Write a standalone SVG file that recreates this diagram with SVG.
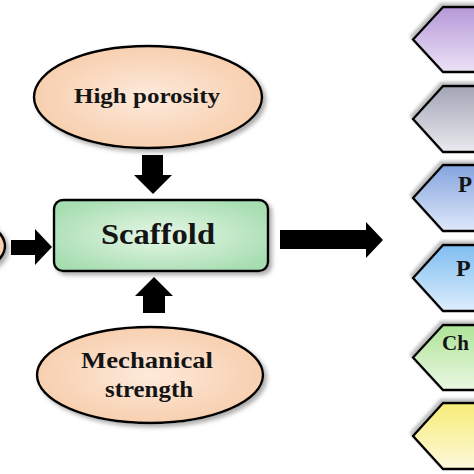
<svg xmlns="http://www.w3.org/2000/svg" width="474" height="474" viewBox="0 0 474 474">
<defs>
<style>
.lbl{font-family:"Liberation Serif","Times New Roman",serif;font-weight:bold;fill:#141414;text-anchor:middle}
.ol{stroke:#000;stroke-width:2.4}
.arr{fill:#000}
</style>
<radialGradient id="peach" cx="50%" cy="50%" r="55%">
<stop offset="0" stop-color="#fdeadb"/>
<stop offset="1" stop-color="#f7cdab"/>
</radialGradient>
<radialGradient id="green" cx="50%" cy="50%" r="60%">
<stop offset="0" stop-color="#e6f7e6"/>
<stop offset="1" stop-color="#a6ddb1"/>
</radialGradient>
<linearGradient id="g1" x1="0" y1="0" x2="0" y2="1"><stop offset="0" stop-color="#b598d8"/><stop offset="1" stop-color="#ece2f6"/></linearGradient>
<linearGradient id="g2" x1="0" y1="0" x2="0" y2="1"><stop offset="0" stop-color="#a2a4b5"/><stop offset="1" stop-color="#eaeaef"/></linearGradient>
<linearGradient id="g3" x1="0" y1="0" x2="0" y2="1"><stop offset="0" stop-color="#84a4df"/><stop offset="1" stop-color="#dfe8f9"/></linearGradient>
<linearGradient id="g4" x1="0" y1="0" x2="0" y2="1"><stop offset="0" stop-color="#7ebdf1"/><stop offset="1" stop-color="#ddeefc"/></linearGradient>
<linearGradient id="g5" x1="0" y1="0" x2="0" y2="1"><stop offset="0" stop-color="#ade397"/><stop offset="1" stop-color="#ebf8e3"/></linearGradient>
<linearGradient id="g6" x1="0" y1="0" x2="0" y2="1"><stop offset="0" stop-color="#f6ec76"/><stop offset="1" stop-color="#fdf9dc"/></linearGradient>
<filter id="sh" x="-20%" y="-20%" width="140%" height="140%">
<feDropShadow dx="3" dy="3" stdDeviation="2" flood-color="#777" flood-opacity="0.6"/>
</filter>
<filter id="shh" x="-20%" y="-20%" width="140%" height="140%">
<feDropShadow dx="-2" dy="-3" stdDeviation="1.5" flood-color="#888" flood-opacity="0.55"/>
</filter>
</defs>
<rect width="474" height="474" fill="#fff"/>

<g id="left-node">
<ellipse cx="-100" cy="246" rx="105" ry="40" fill="url(#peach)" class="ol" filter="url(#sh)"/>
</g>

<g id="high-porosity">
<ellipse cx="148" cy="97" rx="114" ry="51" fill="url(#peach)" class="ol" filter="url(#sh)"/>
<text class="lbl" x="147" y="103" font-size="22" textLength="146" lengthAdjust="spacingAndGlyphs">High porosity</text>
</g>

<g id="scaffold">
<rect x="54" y="200" width="214" height="71" rx="9" fill="url(#green)" class="ol" filter="url(#sh)"/>
<text class="lbl" x="158" y="244" font-size="30" textLength="114" lengthAdjust="spacingAndGlyphs">Scaffold</text>
</g>

<g id="mechanical-strength">
<ellipse cx="150" cy="375" rx="113" ry="48" fill="url(#peach)" class="ol" filter="url(#sh)"/>
<text class="lbl" x="147" y="368" font-size="24" textLength="132" lengthAdjust="spacingAndGlyphs">Mechanical</text>
<text class="lbl" x="149" y="397" font-size="24" textLength="88" lengthAdjust="spacingAndGlyphs">strength</text>
</g>

<g id="hex1"><polygon points="443,7 480,7 480,72 443,72 413,39.5" fill="url(#g1)" class="ol" filter="url(#shh)"/></g>
<g id="hex2"><polygon points="443,86 480,86 480,152 443,152 413,119" fill="url(#g2)" class="ol" filter="url(#shh)"/></g>
<g id="hex3"><polygon points="443,165 480,165 480,231 443,231 413,198" fill="url(#g3)" class="ol" filter="url(#shh)"/>
<text class="lbl" x="458" y="192" font-size="23" style="text-anchor:start">P</text></g>
<g id="hex4"><polygon points="443,245 480,245 480,311 443,311 413,278" fill="url(#g4)" class="ol" filter="url(#shh)"/>
<text class="lbl" x="456" y="276" font-size="24" style="text-anchor:start">P</text></g>
<g id="hex5"><polygon points="443,325 480,325 480,390 443,390 413,357.5" fill="url(#g5)" class="ol" filter="url(#shh)"/>
<text class="lbl" x="442" y="350" font-size="21" style="text-anchor:start">Ch</text></g>
<g id="hex6"><polygon points="443,403 480,403 480,469 443,469 413,436" fill="url(#g6)" class="ol" filter="url(#shh)"/></g>

<g id="connectors">
<polygon class="arr" points="142,155 163,155 163,175 172,175 153,194 134,175 142,175"/>
<polygon class="arr" points="143,313 165,313 165,296 173,296 154,277 135,296 143,296"/>
<polygon class="arr" points="11,240 35,240 35,229 52,247 35,265 35,255 11,255"/>
<polygon class="arr" points="280,230 366,230 366,222 383,240 366,258 366,249 280,249"/>
</g>
</svg>
